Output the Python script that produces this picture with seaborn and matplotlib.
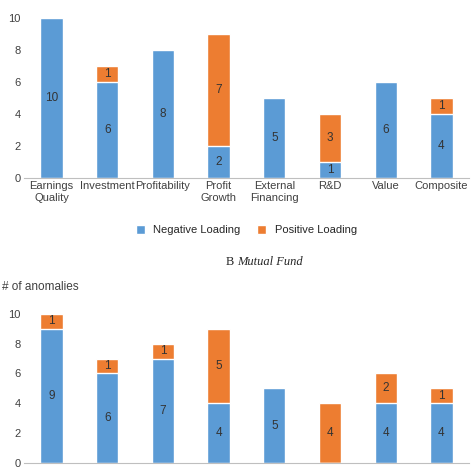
import numpy as np
import pandas as pd
import matplotlib
matplotlib.use("Agg")
import matplotlib.pyplot as plt
import seaborn as sns

categories = ["Earnings\nQuality", "Investment", "Profitability", "Profit\nGrowth",
              "External\nFinancing", "R&D", "Value", "Composite"]
neg_a = [10, 6, 8, 2, 5, 1, 6, 4]
pos_a = [0, 1, 0, 7, 0, 3, 0, 1]
neg_b = [9, 6, 7, 4, 5, 0, 4, 4]
pos_b = [1, 1, 1, 5, 0, 4, 2, 1]

BLUE = "#5B9BD5"
ORANGE = "#ED7D31"

sns.set_style("white")
plt.rcParams['font.family'] = ['Liberation Sans', 'DejaVu Sans']

fig = plt.figure(figsize=(4.74, 4.74), dpi=100)
ax1 = fig.add_axes([0.05, 0.624, 0.94, 0.355])
ax2 = fig.add_axes([0.05, 0.023, 0.94, 0.331])


def draw(ax, neg, pos):
    df = pd.DataFrame({"cat": categories, "neg": neg,
                       "total": np.array(neg) + np.array(pos)})
    sns.barplot(data=df, x="cat", y="total", color=ORANGE, saturation=1,
                width=0.4, ax=ax, label="Positive Loading")
    sns.barplot(data=df, x="cat", y="neg", color=BLUE, saturation=1,
                width=0.4, ax=ax, label="Negative Loading")
    for i, (n, p) in enumerate(zip(neg, pos)):
        if n > 0:
            ax.text(i, n / 2, str(n), ha="center", va="center", fontsize=8.5, color="#333333")
        if p > 0:
            ax.text(i, n + p / 2, str(p), ha="center", va="center", fontsize=8.5, color="#333333")
    ax.set_ylim(0, 10.5)
    ax.set_yticks(range(0, 11, 2))
    ax.set_xlabel("")
    ax.set_ylabel("")
    for s in ["top", "right", "left"]:
        ax.spines[s].set_visible(False)
    ax.spines["bottom"].set_color("#bfbfbf")
    ax.tick_params(axis="both", labelsize=8, colors="#404040", length=0, pad=2)
    ax.set_xlim(-0.5, 7.5)


draw(ax1, neg_a, pos_a)
draw(ax2, neg_b, pos_b)
ax2.set_xticklabels([""] * 8)
ax2.legend_.remove() if ax2.legend_ else None

h, l = ax1.get_legend_handles_labels()
order = [l.index("Negative Loading"), l.index("Positive Loading")]
ax1.legend([h[i] for i in order], [l[i] for i in order], loc="upper center",
           bbox_to_anchor=(0.5, -0.22), ncol=2, frameon=False, fontsize=8,
           handlelength=0.8, handleheight=0.8, columnspacing=1.5)

fig.text(0.5, 0.447, "B ", ha="right", va="center", fontsize=9, family="Liberation Serif")
fig.text(0.5, 0.447, "Mutual Fund", ha="left", va="center", fontsize=9,
         family="Liberation Serif", style="italic")
fig.text(0.005, 0.395, "# of anomalies", ha="left", va="center", fontsize=8.5, color="#404040")

fig.savefig("out.png", dpi=100)
